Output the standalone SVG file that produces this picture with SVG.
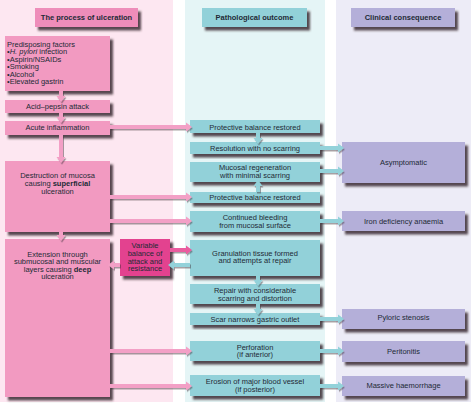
<svg xmlns="http://www.w3.org/2000/svg" width="474" height="406" viewBox="0 0 474 406">
<defs>
<filter id="sh" x="-10%" y="-20%" width="130%" height="160%">
<feDropShadow dx="3" dy="3.5" stdDeviation="0.9" flood-color="#3b2b30" flood-opacity="0.85"/>
</filter>
<filter id="ash" x="-10%" y="-50%" width="130%" height="200%">
<feDropShadow dx="1" dy="1.5" stdDeviation="0.6" flood-color="#3b2b30" flood-opacity="0.45"/>
</filter>
<style>
text{font-family:"Liberation Sans",Arial,sans-serif;font-size:7.5px;fill:#222a36}
.c{text-anchor:middle}
.b{font-weight:bold}
.pk{fill:#f29ac1}
.hp{fill:#ee8dba}
.tl{fill:#92d1d9}
.lv{fill:#b4afd9}
.mg{fill:#e3438f}
.box{filter:url(#sh)}
.ap{fill:#f3a0c6;filter:url(#ash)}
.at{fill:#93d2da;filter:url(#ash)}
.am{fill:#ea5c9f;filter:url(#ash)}
</style>
</defs>
<rect width="474" height="406" fill="#ffffff"/>
<g id="panels">
<rect x="0" y="0" width="173" height="402" fill="#fde7f1"/>
<rect x="185" y="0" width="140" height="402" fill="#e5f5f6"/>
<rect x="336" y="0" width="135" height="402" fill="#edecf7"/>
</g>

<g id="h1"><rect class="box hp" x="35" y="8" width="103" height="19"/><text class="c b" x="86.5" y="20.3">The process of ulceration</text></g>
<g id="h2"><rect class="box tl" x="202" y="8" width="105" height="19"/><text class="c b" x="254.5" y="20.3">Pathological outcome</text></g>
<g id="h3"><rect class="box lv" x="351" y="8" width="104" height="19"/><text class="c b" x="403" y="20.3">Clinical consequence</text></g>

<g id="predisposing"><rect class="box pk" x="5" y="36" width="105" height="55"/>
<text x="7" y="46.5">Predisposing factors</text>
<text x="7" y="54">•<tspan font-style="italic">H. pylori</tspan> infection</text>
<text x="7" y="61.6">•Aspirin/NSAIDs</text>
<text x="7" y="69.2">•Smoking</text>
<text x="7" y="76.8">•Alcohol</text>
<text x="7" y="84.4">•Elevated gastrin</text></g>
<g id="acid"><rect class="box pk" x="5" y="100" width="105" height="13"/><text class="c" x="57.5" y="109.3">Acid–pepsin attack</text></g>
<g id="acute"><rect class="box pk" x="5" y="121" width="105" height="14"/><text class="c" x="57.5" y="130.3">Acute inflammation</text></g>
<g id="destruction"><rect class="box pk" x="5" y="161" width="105" height="71"/>
<text class="c" x="57.5" y="178.3">Destruction of mucosa</text>
<text class="c" x="57.5" y="186">causing <tspan class="b">superficial</tspan></text>
<text class="c" x="57.5" y="193.6">ulceration</text></g>
<g id="extension"><rect class="box pk" x="5" y="239" width="105" height="158"/>
<text class="c" x="57.5" y="256.5">Extension through</text>
<text class="c" x="57.5" y="264">submucosal and muscular</text>
<text class="c" x="57.5" y="271.6">layers causing <tspan class="b">deep</tspan></text>
<text class="c" x="57.5" y="279.2">ulceration</text></g>
<g id="variable"><rect class="box mg" x="120" y="239" width="50" height="37"/>
<text class="c" x="145" y="248.3">Variable</text>
<text class="c" x="145" y="255.9">balance of</text>
<text class="c" x="145" y="263.5">attack and</text>
<text class="c" x="145" y="271.1">resistance</text></g>

<g id="protective1"><rect class="box tl" x="190" y="120" width="130" height="13"/><text class="c" x="255" y="129.6">Protective balance restored</text></g>
<g id="resolution"><rect class="box tl" x="190" y="142" width="130" height="12"/><text class="c" x="255" y="150.6">Resolution with no scarring</text></g>
<g id="mucosal"><rect class="box tl" x="190" y="162" width="130" height="20"/>
<text class="c" x="255" y="170">Mucosal regeneration</text>
<text class="c" x="255" y="177.6">with minimal scarring</text></g>
<g id="protective2"><rect class="box tl" x="190" y="192" width="130" height="11"/><text class="c" x="255" y="200">Protective balance restored</text></g>
<g id="bleeding"><rect class="box tl" x="190" y="211" width="130" height="21"/>
<text class="c" x="255" y="220.3">Continued bleeding</text>
<text class="c" x="255" y="227.9">from mucosal surface</text></g>
<g id="granulation"><rect class="box tl" x="190" y="240" width="130" height="36"/>
<text class="c" x="255" y="255.6">Granulation tissue formed</text>
<text class="c" x="255" y="263.3">and attempts at repair</text></g>
<g id="repair"><rect class="box tl" x="190" y="284" width="130" height="20"/>
<text class="c" x="255" y="293.3">Repair with considerable</text>
<text class="c" x="255" y="300.9">scarring and distortion</text></g>
<g id="scar"><rect class="box tl" x="190" y="313" width="130" height="12"/><text class="c" x="255" y="321.7">Scar narrows gastric outlet</text></g>
<g id="perforation"><rect class="box tl" x="190" y="341" width="130" height="20"/>
<text class="c" x="255" y="349.6">Perforation</text>
<text class="c" x="255" y="357.3">(if anterior)</text></g>
<g id="erosion"><rect class="box tl" x="190" y="375" width="130" height="21"/>
<text class="c" x="255" y="384.3">Erosion of major blood vessel</text>
<text class="c" x="255" y="391.9">(if posterior)</text></g>

<g id="asymptomatic"><rect class="box lv" x="342" y="142" width="123" height="41"/><text class="c" x="403.5" y="165">Asymptomatic</text></g>
<g id="iron"><rect class="box lv" x="342" y="211" width="123" height="20"/><text class="c" x="403.5" y="223.5">Iron deficiency anaemia</text></g>
<g id="pyloric"><rect class="box lv" x="342" y="309" width="123" height="20"/><text class="c" x="403.5" y="320.4">Pyloric stenosis</text></g>
<g id="peritonitis"><rect class="box lv" x="342" y="341" width="123" height="21"/><text class="c" x="403.5" y="353.8">Peritonitis</text></g>
<g id="haemorrhage"><rect class="box lv" x="342" y="376" width="123" height="20"/><text class="c" x="403.5" y="388.4">Massive haemorrhage</text></g>

<g id="connectors">
<path class="ap" d="M59,91 V96 H56.5 L61,102 L65.5,96 H63 V91 Z"/>
<path class="ap" d="M59,113 V117 H56.5 L61,123 L65.5,117 H63 V113 Z"/>
<path class="ap" d="M59,135 V157 H56.5 L61,163 L65.5,157 H63 V135 Z"/>
<path class="ap" d="M59,232 V235 H56.5 L61,241 L65.5,235 H63 V232 Z"/>
<path class="ap" d="M110,125 H186 V122.5 L192,127 L186,131.5 V129 H110 Z"/>
<path class="ap" d="M110,195 H186 V192.5 L192,197 L186,201.5 V199 H110 Z"/>
<path class="ap" d="M110,219 H186 V216.5 L192,221 L186,225.5 V223 H110 Z"/>
<path class="ap" d="M110,349 H186 V346.5 L192,351 L186,355.5 V353 H110 Z"/>
<path class="ap" d="M110,384 H186 V381.5 L192,386 L186,390.5 V388 H110 Z"/>
<path class="am" d="M170,248 H186 V245.5 L192,250 L186,254.5 V252 H170 Z"/>
<path class="ap" d="M120,263 H114 V260.5 L108,265 L114,269.5 V267 H120 Z"/>
<path class="at" d="M190,263 H174 V260.5 L168,265 L174,269.5 V267 H190 Z"/>
<path class="at" d="M256,133 V138 H253.5 L258,144 L262.5,138 H260 V133 Z"/>
<path class="at" d="M256,192 V186 H253.5 L258,180 L262.5,186 H260 V192 Z"/>
<path class="at" d="M256,276 V280 H253.5 L258,286 L262.5,280 H260 V276 Z"/>
<path class="at" d="M256,304 V309 H253.5 L258,315 L262.5,309 H260 V304 Z"/>
<path class="at" d="M320,146 H338 V143.5 L344,148 L338,152.5 V150 H320 Z"/>
<path class="at" d="M320,169 H338 V166.5 L344,171 L338,175.5 V173 H320 Z"/>
<path class="at" d="M320,219 H338 V216.5 L344,221 L338,225.5 V223 H320 Z"/>
<path class="at" d="M320,317 H338 V314.5 L344,319 L338,323.5 V321 H320 Z"/>
<path class="at" d="M320,349 H338 V346.5 L344,351 L338,355.5 V353 H320 Z"/>
<path class="at" d="M320,384 H338 V381.5 L344,386 L338,390.5 V388 H320 Z"/>
</g>
</svg>
